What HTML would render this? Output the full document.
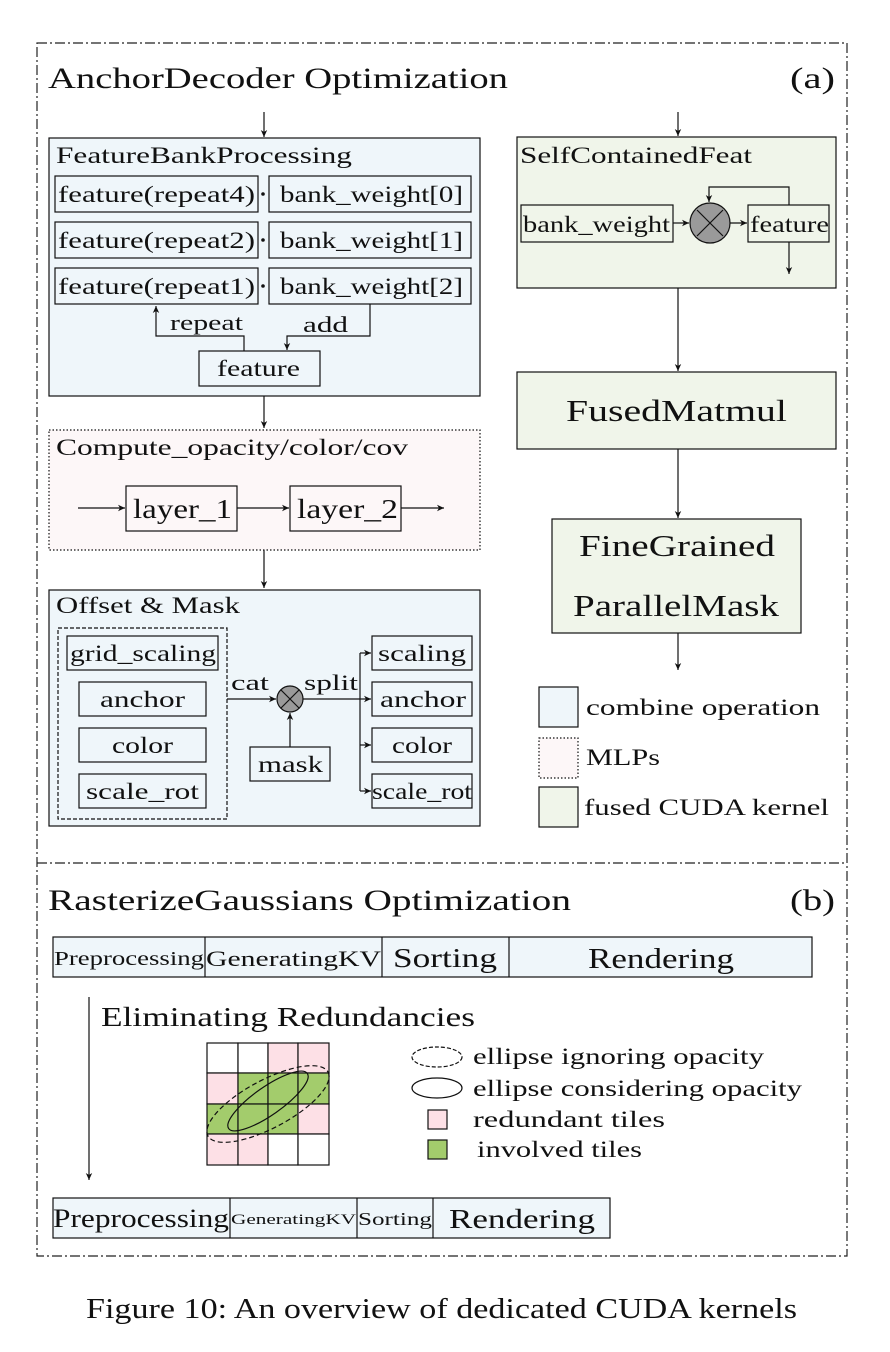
<!DOCTYPE html>
<html><head><meta charset="utf-8"><style>
html,body{margin:0;padding:0;background:#fff;}
svg{display:block;}
text{font-family:"Liberation Serif",serif;fill:#111;}
</style></head><body>
<svg width="890" height="1352" viewBox="0 0 890 1352" xmlns="http://www.w3.org/2000/svg">
<defs>
<marker id="a" markerWidth="8" markerHeight="8" refX="7" refY="4" orient="auto" markerUnits="userSpaceOnUse">
<path d="M0,0.8 L7,4 L0,7.2 L2,4 Z" fill="#111"/></marker>
</defs>
<g fill="none" stroke="#222" stroke-width="1.2">
<rect x="37" y="43" width="810" height="1213" stroke-dasharray="10,3,2,3"/>
<line x1="37" y1="863" x2="847" y2="863" stroke-dasharray="10,3,2,3"/>
</g>
<g lengthAdjust="spacingAndGlyphs">
<text x="48" y="88" font-size="30" textLength="460" lengthAdjust="spacingAndGlyphs">AnchorDecoder Optimization</text>
<text x="790" y="88" font-size="30" textLength="45" lengthAdjust="spacingAndGlyphs">(a)</text>
</g>

<g stroke="#111" stroke-width="1.2" fill="none">
<line x1="264" y1="112" x2="264" y2="137" marker-end="url(#a)"/>
<rect x="49" y="138" width="431" height="258" fill="#eff6fa"/>
<rect x="55" y="176" width="203" height="36"/><rect x="269" y="176" width="202" height="36"/>
<rect x="55" y="222" width="203" height="36"/><rect x="269" y="222" width="202" height="36"/>
<rect x="55" y="268" width="203" height="36"/><rect x="269" y="268" width="202" height="36"/>
<rect x="199" y="351" width="121" height="35"/>
<polyline points="244,351 244,336 156,336 156,306" marker-end="url(#a)"/>
<polyline points="370,304 370,336 287,336 287,350" marker-end="url(#a)"/>
<line x1="264" y1="396" x2="264" y2="428" marker-end="url(#a)"/>
<rect x="49" y="430" width="431" height="120" fill="#fdf7f8" stroke-dasharray="1.5,2"/>
<rect x="126" y="486" width="111" height="45"/>
<rect x="290" y="486" width="111" height="45"/>
<line x1="78" y1="508" x2="125" y2="508" marker-end="url(#a)"/>
<line x1="237" y1="508" x2="289" y2="508" marker-end="url(#a)"/>
<line x1="401" y1="508" x2="444" y2="508" marker-end="url(#a)"/>
<line x1="264" y1="550" x2="264" y2="588" marker-end="url(#a)"/>
<rect x="49" y="590" width="431" height="236" fill="#eff6fa"/>
<rect x="58" y="628" width="169" height="191" stroke-dasharray="4,2"/>
<rect x="67" y="636" width="151" height="34"/>
<rect x="79" y="682" width="127" height="34"/>
<rect x="79" y="728" width="127" height="34"/>
<rect x="79" y="774" width="127" height="34"/>
<line x1="227" y1="699" x2="276" y2="699" marker-end="url(#a)"/>
<rect x="250" y="747" width="80" height="34"/>
<line x1="290" y1="747" x2="290" y2="713" marker-end="url(#a)"/>
<circle cx="290" cy="699" r="13" fill="#9a9a9a"/>
<path d="M281,690 L299,708 M299,690 L281,708"/>
<line x1="303" y1="699" x2="360" y2="699"/>
<line x1="360" y1="653" x2="360" y2="791"/>
<line x1="360" y1="653" x2="371" y2="653" marker-end="url(#a)"/>
<line x1="360" y1="699" x2="371" y2="699" marker-end="url(#a)"/>
<line x1="360" y1="745" x2="371" y2="745" marker-end="url(#a)"/>
<line x1="360" y1="791" x2="371" y2="791" marker-end="url(#a)"/>
<rect x="372" y="636" width="100" height="34"/>
<rect x="372" y="682" width="100" height="34"/>
<rect x="372" y="728" width="100" height="34"/>
<rect x="372" y="774" width="100" height="34"/>

<line x1="678" y1="112" x2="678" y2="136" marker-end="url(#a)"/>
<rect x="517" y="137" width="319" height="151" fill="#f0f5ea"/>
<rect x="521" y="205" width="152" height="37"/>
<rect x="748" y="205" width="81" height="37"/>
<line x1="673" y1="223" x2="689" y2="223" marker-end="url(#a)"/>
<line x1="730" y1="223" x2="747" y2="223" marker-end="url(#a)"/>
<polyline points="789,205 789,187 709,187 709,202" marker-end="url(#a)"/>
<line x1="789" y1="242" x2="789" y2="274" marker-end="url(#a)"/>
<circle cx="710" cy="223" r="20" fill="#9a9a9a"/>
<path d="M697,210 L723,236 M723,210 L697,236"/>
<line x1="678" y1="288" x2="678" y2="371" marker-end="url(#a)"/>
<rect x="517" y="372" width="319" height="77" fill="#f0f5ea"/>
<line x1="678" y1="449" x2="678" y2="518" marker-end="url(#a)"/>
<rect x="552" y="519" width="249" height="114" fill="#f0f5ea"/>
<line x1="678" y1="633" x2="678" y2="670" marker-end="url(#a)"/>
<rect x="539" y="687" width="39" height="40" fill="#eff6fa"/>
<rect x="539" y="738" width="39" height="40" fill="#fdf7f8" stroke-dasharray="1.5,2"/>
<rect x="539" y="787" width="39" height="40" fill="#f0f5ea"/>
</g>
<circle cx="263" cy="194" r="1.8" fill="#111"/><circle cx="263" cy="240" r="1.8" fill="#111"/><circle cx="263" cy="286" r="1.8" fill="#111"/>
<g font-size="23">
<text x="56" y="163" textLength="296" lengthAdjust="spacingAndGlyphs">FeatureBankProcessing</text>
<text x="58" y="202" textLength="197" lengthAdjust="spacingAndGlyphs">feature(repeat4)</text><text x="280" y="202" textLength="183" lengthAdjust="spacingAndGlyphs">bank_weight[0]</text>
<text x="58" y="248" textLength="197" lengthAdjust="spacingAndGlyphs">feature(repeat2)</text><text x="280" y="248" textLength="183" lengthAdjust="spacingAndGlyphs">bank_weight[1]</text>
<text x="58" y="294" textLength="197" lengthAdjust="spacingAndGlyphs">feature(repeat1)</text><text x="280" y="294" textLength="183" lengthAdjust="spacingAndGlyphs">bank_weight[2]</text>
<text x="170" y="330" font-size="22" textLength="73" lengthAdjust="spacingAndGlyphs">repeat</text>
<text x="303" y="332" font-size="22" textLength="45" lengthAdjust="spacingAndGlyphs">add</text>
<text x="217" y="376" textLength="83" lengthAdjust="spacingAndGlyphs">feature</text>
<text x="56" y="455" textLength="352" lengthAdjust="spacingAndGlyphs">Compute_opacity/color/cov</text>
<text x="56" y="613" textLength="184" lengthAdjust="spacingAndGlyphs">Offset &amp; Mask</text>
<text x="70" y="661" textLength="146" lengthAdjust="spacingAndGlyphs">grid_scaling</text>
<text x="100" y="707" textLength="85" lengthAdjust="spacingAndGlyphs">anchor</text>
<text x="112" y="753" textLength="61" lengthAdjust="spacingAndGlyphs">color</text>
<text x="86" y="799" textLength="113" lengthAdjust="spacingAndGlyphs">scale_rot</text>
<text x="231" y="690" font-size="22" textLength="38" lengthAdjust="spacingAndGlyphs">cat</text>
<text x="304" y="690" font-size="22" textLength="54" lengthAdjust="spacingAndGlyphs">split</text>
<text x="258" y="772" textLength="65" lengthAdjust="spacingAndGlyphs">mask</text>
<text x="378" y="661" textLength="88" lengthAdjust="spacingAndGlyphs">scaling</text>
<text x="380" y="707" textLength="86" lengthAdjust="spacingAndGlyphs">anchor</text>
<text x="392" y="753" textLength="60" lengthAdjust="spacingAndGlyphs">color</text>
<text x="372" y="799" textLength="100" lengthAdjust="spacingAndGlyphs">scale_rot</text>
<text x="520" y="163" textLength="232" lengthAdjust="spacingAndGlyphs">SelfContainedFeat</text>
<text x="523" y="232" textLength="147" lengthAdjust="spacingAndGlyphs">bank_weight</text>
<text x="750" y="232" textLength="79" lengthAdjust="spacingAndGlyphs">feature</text>
<text x="586" y="715" textLength="234" lengthAdjust="spacingAndGlyphs">combine operation</text>
<text x="586" y="765" textLength="74" lengthAdjust="spacingAndGlyphs">MLPs</text>
<text x="584" y="815" textLength="245" lengthAdjust="spacingAndGlyphs">fused CUDA kernel</text>
</g>
<text x="133" y="518" font-size="27" textLength="99" lengthAdjust="spacingAndGlyphs">layer_1</text>
<text x="297" y="518" font-size="27" textLength="101" lengthAdjust="spacingAndGlyphs">layer_2</text>
<text x="566" y="421" font-size="31" textLength="221" lengthAdjust="spacingAndGlyphs">FusedMatmul</text>
<text x="579" y="556" font-size="31" textLength="196" lengthAdjust="spacingAndGlyphs">FineGrained</text>
<text x="573" y="616" font-size="31" textLength="206" lengthAdjust="spacingAndGlyphs">ParallelMask</text>

<text x="48" y="910" font-size="30" textLength="523" lengthAdjust="spacingAndGlyphs">RasterizeGaussians Optimization</text>
<text x="790" y="910" font-size="30" textLength="45" lengthAdjust="spacingAndGlyphs">(b)</text>
<g stroke="#111" stroke-width="1.2" fill="#eff6fa">
<rect x="53" y="937" width="759" height="40"/>
<line x1="205" y1="937" x2="205" y2="977"/><line x1="382" y1="937" x2="382" y2="977"/><line x1="509" y1="937" x2="509" y2="977"/>
<rect x="53" y="1198" width="557" height="40"/>
<line x1="230" y1="1198" x2="230" y2="1238"/><line x1="357" y1="1198" x2="357" y2="1238"/><line x1="433" y1="1198" x2="433" y2="1238"/>
</g>
<text x="54" y="965" font-size="20" textLength="150" lengthAdjust="spacingAndGlyphs">Preprocessing</text>
<text x="206" y="966" font-size="22" textLength="175" lengthAdjust="spacingAndGlyphs">GeneratingKV</text>
<text x="393" y="967" font-size="27" textLength="104" lengthAdjust="spacingAndGlyphs">Sorting</text>
<text x="588" y="968" font-size="29" textLength="146" lengthAdjust="spacingAndGlyphs">Rendering</text>
<text x="53" y="1227" font-size="26" textLength="176" lengthAdjust="spacingAndGlyphs">Preprocessing</text>
<text x="231" y="1224" font-size="15" textLength="125" lengthAdjust="spacingAndGlyphs">GeneratingKV</text>
<text x="358" y="1225" font-size="18" textLength="74" lengthAdjust="spacingAndGlyphs">Sorting</text>
<text x="449" y="1228" font-size="27" textLength="146" lengthAdjust="spacingAndGlyphs">Rendering</text>
<line x1="89" y1="997" x2="89" y2="1180" stroke="#111" stroke-width="1.2" marker-end="url(#a)"/>
<text x="101" y="1026" font-size="27" textLength="374" lengthAdjust="spacingAndGlyphs">Eliminating Redundancies</text>

<g stroke="#111" stroke-width="1.2">
<rect x="207" y="1043" width="31" height="30" fill="#fff"/><rect x="238" y="1043" width="30" height="30" fill="#fff"/><rect x="268" y="1043" width="30" height="30" fill="#fde0e6"/><rect x="298" y="1043" width="31" height="30" fill="#fde0e6"/>
<rect x="207" y="1073" width="31" height="31" fill="#fde0e6"/><rect x="238" y="1073" width="30" height="31" fill="#a3cc6c"/><rect x="268" y="1073" width="30" height="31" fill="#a3cc6c"/><rect x="298" y="1073" width="31" height="31" fill="#a3cc6c"/>
<rect x="207" y="1104" width="31" height="30" fill="#a3cc6c"/><rect x="238" y="1104" width="30" height="30" fill="#a3cc6c"/><rect x="268" y="1104" width="30" height="30" fill="#a3cc6c"/><rect x="298" y="1104" width="31" height="30" fill="#fde0e6"/>
<rect x="207" y="1134" width="31" height="31" fill="#fde0e6"/><rect x="238" y="1134" width="30" height="31" fill="#fde0e6"/><rect x="268" y="1134" width="30" height="31" fill="#fff"/><rect x="298" y="1134" width="31" height="31" fill="#fff"/>
<ellipse cx="268" cy="1104" rx="68" ry="24" transform="rotate(-28 268 1104)" fill="none" stroke-dasharray="5,3"/>
<ellipse cx="268" cy="1101" rx="48" ry="14" transform="rotate(-35 268 1101)" fill="none"/>
<ellipse cx="437" cy="1057" rx="25" ry="10" fill="none" stroke-dasharray="4,2"/>
<ellipse cx="437" cy="1088" rx="25" ry="10" fill="none"/>
<rect x="428" y="1110" width="19" height="19" fill="#fde0e6"/>
<rect x="428" y="1140" width="19" height="19" fill="#a3cc6c"/>
</g>
<g font-size="23">
<text x="473" y="1064" textLength="291" lengthAdjust="spacingAndGlyphs">ellipse ignoring opacity</text>
<text x="473" y="1096" textLength="329" lengthAdjust="spacingAndGlyphs">ellipse considering opacity</text>
<text x="473" y="1127" textLength="192" lengthAdjust="spacingAndGlyphs">redundant tiles</text>
<text x="477" y="1157" textLength="165" lengthAdjust="spacingAndGlyphs">involved tiles</text>
</g>
<text x="86" y="1318" font-size="28" textLength="711" lengthAdjust="spacingAndGlyphs">Figure 10: An overview of dedicated CUDA kernels</text>
</svg>
</body></html>
